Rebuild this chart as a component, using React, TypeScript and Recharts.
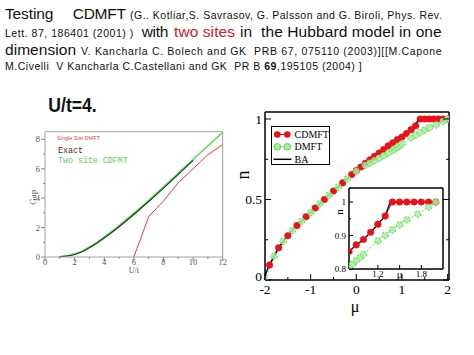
import React from 'react';
import { LineChart, Line, XAxis, YAxis, Legend, CartesianGrid } from 'recharts';

// ---------- Left chart: Gap vs U/t ----------
const exactU = [1, 1.5, 2, 2.5, 3, 3.5, 4, 4.5, 5, 6, 7, 8, 9, 10];
const exactGap = [0.02, 0.07, 0.17, 0.36, 0.63, 0.94, 1.29, 1.66, 2.06, 2.89, 3.77, 4.68, 5.62, 6.57];
const twoSiteU = [0.9, 1.5, 2, 2.5, 3, 3.5, 4, 4.5, 5, 6, 7, 8, 9, 10, 11, 12];
const twoSiteGap = [0.0, 0.08, 0.2, 0.4, 0.68, 1.0, 1.36, 1.74, 2.14, 2.98, 3.86, 4.77, 5.7, 6.64, 7.56, 8.48];
const singleSiteU = [6, 7, 8, 9, 10, 11, 12];
const singleSiteGap = [0, 2.75, 3.8, 5.05, 6.0, 6.95, 7.65];
const gapXTicks = [0, 1, 2, 3, 4, 5, 6, 7, 8, 9, 10, 11, 12];
const gapYTicks = [0, 1, 2, 3, 4, 5, 6, 7, 8];

// ---------- Right chart: n vs mu ----------
const cdmftMu = [-1.9, -1.7, -1.5, -1.3, -1.1, -0.9, -0.7, -0.5, -0.3, -0.1, 0, 0.1, 0.2, 0.3, 0.4, 0.5, 0.6, 0.7, 0.8, 0.9, 1.0, 1.1, 1.2, 1.3, 1.4, 1.5, 1.6, 1.7, 1.8, 1.9, 2.0];
const cdmftN = [0.093, 0.2, 0.275, 0.338, 0.393, 0.447, 0.5, 0.553, 0.603, 0.655, 0.68, 0.702, 0.725, 0.747, 0.768, 0.789, 0.811, 0.833, 0.852, 0.872, 0.888, 0.91, 0.934, 0.958, 1.0, 1.0, 1.0, 1.0, 1.0, 1.0, 1.0];
const dmftMu = [-2.0, -1.8, -1.6, -1.4, -1.2, -1.0, -0.8, -0.6, -0.4, -0.2, 0.0, 0.2, 0.3, 0.4, 0.5, 0.6, 0.7, 0.8, 0.85, 0.9, 0.95, 1.0, 1.2, 1.3, 1.4, 1.5, 1.6, 1.75, 1.9, 2.0];
const dmftN = [0.0, 0.148, 0.24, 0.307, 0.366, 0.42, 0.474, 0.527, 0.578, 0.628, 0.675, 0.712, 0.727, 0.742, 0.757, 0.772, 0.789, 0.806, 0.815, 0.825, 0.834, 0.844, 0.884, 0.9, 0.917, 0.932, 0.947, 0.964, 0.985, 1.0];
const baMu = [-2, -1.99, -1.97, -1.94, -1.9, -1.8, -1.7, -1.5, -1.3, -1.1, -0.9, -0.7, -0.5, -0.3, -0.1, 0.1, 0.3, 0.5, 0.7, 0.8, 0.9, 1.0, 1.1, 1.2, 1.3, 1.37, 2.0];
const baN = [0, 0.03, 0.05, 0.07, 0.093, 0.15, 0.2, 0.275, 0.338, 0.393, 0.447, 0.5, 0.553, 0.603, 0.655, 0.702, 0.747, 0.789, 0.833, 0.852, 0.872, 0.888, 0.91, 0.934, 0.958, 1.0, 1.0];
const muTicks = [-2, -1.5, -1, -0.5, 0, 0.5, 1, 1.5, 2];
const nTicks = [0, 0.25, 0.5, 0.75, 1];
const insetMuTicks = [1.2, 1.5, 1.8];
const insetNTicks = [0.8, 0.85, 0.9, 0.95, 1.0];

const rows = (xs: number[], ys: number[], kx: string, ky: string) => xs.map((x, i) => ({ [kx]: x, [ky]: ys[i] }));
const exactRows = rows(exactU, exactGap, 'u', 'g');
const twoSiteRows = rows(twoSiteU, twoSiteGap, 'u', 'g');
const singleRows = rows(singleSiteU, singleSiteGap, 'u', 'g');
const cdmftRows = rows(cdmftMu, cdmftN, 'mu', 'n');
const dmftRows = rows(dmftMu, dmftN, 'mu', 'n');
const baRows = rows(baMu, baN, 'mu', 'n');
const insetMin = 0.8;
const cdmftInset = cdmftRows.filter((r: any) => r.mu >= insetMin);
const dmftInset = dmftRows.filter((r: any) => r.mu >= insetMin);
const baInset = baRows.filter((r: any) => r.mu >= insetMin);

const serif = "'Liberation Serif', 'Times New Roman', serif";
const sans = "'Liberation Sans', Arial, sans-serif";
const mono = "'Liberation Mono', 'Courier New', monospace";

type Side = 'bottom' | 'top' | 'left' | 'right';
interface TickCfg {
  side: Side; inward: boolean; isMajor: (v: number) => boolean; majorLen: number; minorLen: number;
  stroke: string; strokeWidth: number; label?: (v: number) => string | null; labelOffset?: number;
  fontSize?: number; fontFamily?: string; fill?: string; labelFontSize?: (v: number) => number;
  labelShift?: (v: number) => number;
}
function makeTick(c: TickCfg) {
  return function Tick(props: any) {
    const { x, y, payload } = props;
    const v = Number(payload?.value);
    const len = c.isMajor(v) ? c.majorLen : c.minorLen;
    const s = c.inward ? -1 : 1;
    let x2 = x, y2 = y;
    if (c.side === 'bottom') y2 = y + s * len;
    else if (c.side === 'top') y2 = y - s * len;
    else if (c.side === 'left') x2 = x - s * len;
    else x2 = x + s * len;
    const txt = c.label ? c.label(v) : null;
    const fs = c.labelFontSize ? c.labelFontSize(v) : c.fontSize;
    const off = c.labelOffset ?? 0;
    const sh = c.labelShift ? c.labelShift(v) : 0;
    let lab: any = null;
    if (txt != null) {
      if (c.side === 'bottom') lab = <text x={x} y={y + off + sh} textAnchor="middle" dominantBaseline="central" fontSize={fs} fontFamily={c.fontFamily} fill={c.fill}>{txt}</text>;
      else if (c.side === 'left') lab = <text x={x - off} y={y + sh} textAnchor="end" dominantBaseline="central" fontSize={fs} fontFamily={c.fontFamily} fill={c.fill}>{txt}</text>;
    }
    return <g>{len > 0 && <line x1={x} y1={y} x2={x2} y2={y2} stroke={c.stroke} strokeWidth={c.strokeWidth} />}{lab}</g>;
  };
}
const isInt = (v: number) => Math.abs(v - Math.round(v)) < 1e-6;
const isEven = (v: number) => isInt(v) && Math.round(v) % 2 === 0;
const isHalf = (v: number) => Math.abs(v * 2 - Math.round(v * 2)) < 1e-6;
const isTenth = (v: number) => Math.abs(v * 10 - Math.round(v * 10)) < 1e-6;

// left chart ticks
const gapXTick = makeTick({ side: 'bottom', inward: false, isMajor: isEven, majorLen: 4, minorLen: 2, stroke: '#888', strokeWidth: 1, label: (v) => (isEven(v) ? String(v) : null), labelOffset: 4.6, fontSize: 8.5, fontFamily: serif, fill: '#555' });
const gapYTick = makeTick({ side: 'left', inward: false, isMajor: isEven, majorLen: 4, minorLen: 2, stroke: '#888', strokeWidth: 1, label: (v) => (isEven(v) ? String(v) : null), labelOffset: 5, fontSize: 8.5, fontFamily: serif, fill: '#555' });

// right chart ticks
const mainXTick = makeTick({ side: 'bottom', inward: true, isMajor: isInt, majorLen: 6, minorLen: 3, stroke: '#000', strokeWidth: 1, label: (v) => (isInt(v) ? String(v) : null), labelOffset: 9.5, fontSize: 13.5, fontFamily: serif, fill: '#000' });
const mainXTopTick = makeTick({ side: 'top', inward: true, isMajor: isInt, majorLen: 6, minorLen: 3, stroke: '#000', strokeWidth: 1 });
const mainYTick = makeTick({ side: 'left', inward: true, isMajor: isHalf, majorLen: 6, minorLen: 3, stroke: '#000', strokeWidth: 1, label: (v) => (v === 0 ? '0' : v === 0.5 ? '0.5' : v === 1 ? '1' : null), labelOffset: 3, fontSize: 13.5, fontFamily: serif, fill: '#000', labelShift: (v) => (v === 0 ? -4 : 0) });
const mainYRightTick = makeTick({ side: 'right', inward: true, isMajor: isHalf, majorLen: 6, minorLen: 3, stroke: '#000', strokeWidth: 1 });

const insetXTick = makeTick({ side: 'bottom', inward: true, isMajor: () => true, majorLen: 4, minorLen: 2, stroke: '#000', strokeWidth: 1, label: (v) => (Math.abs(v - 1.5) < 1e-6 ? 'μ' : v.toFixed(1)), labelOffset: 4.5, fontSize: 9, labelFontSize: (v) => (Math.abs(v - 1.5) < 1e-6 ? 11 : 9), fontFamily: serif, fill: '#000' });
const insetYTick = makeTick({ side: 'left', inward: true, isMajor: isTenth, majorLen: 4, minorLen: 2, stroke: '#000', strokeWidth: 1, label: (v) => (Math.abs(v - 1) < 1e-6 ? '1' : isTenth(v) ? v.toFixed(1) : null), labelOffset: 3, fontSize: 9, fontFamily: serif, fill: '#000' });

const red = '#e4141c';
const greenFill = '#a8ef9c';
const greenStroke = '#62cc58';

const LeftLegend = () => (
  <svg width={120} height={40} style={{ display: 'block', overflow: 'visible' }}>
    <text x={7} y={8.3} dominantBaseline="central" fontSize={5.5} fontFamily={sans} fill="#d8434a">Single Site DMFT</text>
    <text x={8} y={20.7} dominantBaseline="central" fontSize={8.3} fontFamily={mono} fill="#333">Exact</text>
    <text x={8} y={30} dominantBaseline="central" fontSize={8.3} fontFamily={mono} fill="#5ccc5c">Two site CDFMT</text>
  </svg>
);

const RightLegend = () => (
  <svg width={60} height={40} style={{ display: 'block', overflow: 'visible' }}>
    <rect x={0.5} y={0.5} width={58} height={38} fill="#fff" stroke="#000" strokeWidth={1} />
    <line x1={6.3} y1={8.5} x2={16.3} y2={8.5} stroke={red} strokeWidth={1} />
    <circle cx={6.3} cy={8.5} r={3.3} fill={red} />
    <circle cx={16.3} cy={8.5} r={3.3} fill={red} />
    <text x={23.5} y={8.5} dominantBaseline="central" fontSize={10} fontFamily={serif}>CDMFT</text>
    <line x1={6.3} y1={20.8} x2={16.3} y2={20.8} stroke={greenStroke} strokeWidth={1} strokeDasharray="2 2" />
    <circle cx={6.3} cy={20.8} r={3.3} fill={greenFill} stroke={greenStroke} strokeWidth={1} />
    <circle cx={16.3} cy={20.8} r={3.3} fill={greenFill} stroke={greenStroke} strokeWidth={1} />
    <text x={23.5} y={20.8} dominantBaseline="central" fontSize={10} fontFamily={serif}>DMFT</text>
    <line x1={2.5} y1={33.3} x2={20.5} y2={33.3} stroke="#000" strokeWidth={1.5} />
    <text x={23.5} y={33.3} dominantBaseline="central" fontSize={10} fontFamily={serif}>BA</text>
  </svg>
);

const Header = () => (
  <svg width={474} height={120} style={{ position: 'absolute', left: 0, top: 0 }}>
    <g fontFamily={sans} fill="#111">
      <text x={5} y={18.5} fontSize={15.5} textLength={48.3}>Testing</text>
      <text x={72.7} y={18.5} fontSize={15.5} textLength={53.3}>CDMFT</text>
      <text x={130} y={18.5} fontSize={10.5} textLength={311.7}>(G.. Kotliar,S. Savrasov, G. Palsson and G. Biroli, Phys. Rev.</text>
      <text x={5} y={36.5} fontSize={10.5} textLength={128.3}>Lett. 87, 186401 (2001) )</text>
      <text x={141.7} y={36.5} fontSize={15.5} textLength={26.6}>with</text>
      <text x={174} y={36.5} fontSize={15.5} textLength={61} fill="#c8232c">two sites</text>
      <text x={240} y={36.5} fontSize={15.5} textLength={201.7} style={{ whiteSpace: 'pre' }}>in  the Hubbard model in one</text>
      <text x={5} y={54.5} fontSize={15.5} textLength={71}>dimension</text>
      <text x={81} y={54.5} fontSize={10.5} textLength={360.7} style={{ whiteSpace: 'pre' }}>V. Kancharla C. Bolech and GK  PRB 67, 075110 (2003)][[M.Capone</text>
      <text x={5} y={70} fontSize={10.5} textLength={356.7} style={{ whiteSpace: 'pre' }}>M.Civelli  V Kancharla C.Castellani and GK  PR B <tspan fontWeight="bold">69</tspan>,195105 (2004) ]</text>
      <text x={48.3} y={111.5} fontSize={21} fontWeight="bold" textLength={48.4} lengthAdjust="spacingAndGlyphs">U/t=4.</text>
    </g>
  </svg>
);

const GapChart = () => (
  <div style={{ position: 'absolute', left: 0, top: 120 }}>
    <LineChart width={240} height={160} margin={{ top: 10.7, right: 16.3, left: 44, bottom: 22 }}>
      <XAxis type="number" dataKey="u" domain={[0, 12]} ticks={gapXTicks} interval={0} tickSize={0} tickMargin={0} height={1} axisLine={{ stroke: '#a0a0a0' }} tickLine={false} tick={gapXTick}
        label={(p: any) => <text x={p.viewBox.x + p.viewBox.width / 2} y={p.viewBox.y + 13.8} textAnchor="middle" dominantBaseline="central" fontSize={8} fontFamily={serif} fill="#555">U/t</text>} />
      <XAxis xAxisId="top" orientation="top" type="number" domain={[0, 12]} allowDataOverflow height={1} tick={false} tickLine={false} axisLine={{ stroke: '#a0a0a0' }} />
      <YAxis type="number" domain={[0, 8.52]} ticks={gapYTicks} interval={0} tickSize={0} tickMargin={0} width={1} axisLine={{ stroke: '#a0a0a0' }} tickLine={false} tick={gapYTick} allowDataOverflow
        label={(p: any) => <text x={p.viewBox.x - 11.3} y={p.viewBox.y + p.viewBox.height / 2 + 3} textAnchor="middle" dominantBaseline="central" fontSize={9} fontFamily={serif} fill="#555" transform={`rotate(-90 ${p.viewBox.x - 11.3} ${p.viewBox.y + p.viewBox.height / 2 + 3})`}>Gap</text>} />
      <YAxis yAxisId="right" orientation="right" type="number" domain={[0, 8.52]} allowDataOverflow width={1} tick={false} tickLine={false} axisLine={{ stroke: '#a0a0a0' }} />
      <Line data={singleRows} dataKey="g" type="linear" stroke="#dd3c45" strokeWidth={1} dot={false} isAnimationActive={false} />
      <Line data={twoSiteRows} dataKey="g" type="monotone" stroke="#66dd5e" strokeWidth={1.6} dot={false} isAnimationActive={false} />
      <Line data={exactRows} dataKey="g" type="monotone" stroke="#1c3a1c" strokeWidth={1.2} dot={false} isAnimationActive={false} />
      <Legend layout="vertical" align="center" verticalAlign="middle" width={120} height={40} wrapperStyle={{ left: 50, top: 10, width: 120, height: 40 }} content={() => <LeftLegend />} />
    </LineChart>
  </div>
);

const DensityChart = () => (
  <div style={{ position: 'absolute', left: 230, top: 100 }}>
    <LineChart width={244} height={255} margin={{ top: 11, right: 24, left: 34, bottom: 74 }}>
      <XAxis type="number" dataKey="mu" domain={[-2, 2.03]} ticks={muTicks} interval={0} tickSize={0} tickMargin={0} height={1} axisLine={{ stroke: '#000', strokeWidth: 1.5 }} tickLine={false} tick={mainXTick} allowDataOverflow
        label={(p: any) => <text x={p.viewBox.x + 90} y={p.viewBox.y + 26} textAnchor="middle" dominantBaseline="central" fontSize={16} fontFamily={serif}>μ</text>} />
      <XAxis xAxisId="top" orientation="top" type="number" domain={[-2, 2.03]} ticks={muTicks} interval={0} tickSize={0} tickMargin={0} height={1} allowDataOverflow axisLine={{ stroke: '#000', strokeWidth: 1.5 }} tickLine={false} tick={mainXTopTick} />
      <YAxis type="number" domain={[0, 1.0435]} ticks={nTicks} interval={0} tickSize={0} tickMargin={0} width={1} axisLine={{ stroke: '#000', strokeWidth: 1.5 }} tickLine={false} tick={mainYTick} allowDataOverflow
        label={(p: any) => <text x={p.viewBox.x - 21} y={p.viewBox.y + 63} textAnchor="middle" dominantBaseline="central" fontSize={18} fontFamily={serif} transform={`rotate(-90 ${p.viewBox.x - 21} ${p.viewBox.y + 63})`}>n</text>} />
      <YAxis yAxisId="right" orientation="right" type="number" domain={[0, 1.0435]} ticks={nTicks} interval={0} tickSize={0} tickMargin={0} width={1} allowDataOverflow axisLine={{ stroke: '#000', strokeWidth: 1.5 }} tickLine={false} tick={mainYRightTick} />
      <Line data={cdmftRows} dataKey="n" type="linear" stroke={red} strokeWidth={1} dot={{ r: 3.3, fill: red, stroke: red, strokeWidth: 0.5 }} isAnimationActive={false} />
      <Line data={dmftRows} dataKey="n" type="linear" stroke={greenStroke} strokeWidth={1} strokeDasharray="2 2" dot={{ r: 3.3, fill: greenFill, fillOpacity: 0.85, stroke: greenStroke, strokeWidth: 1 }} isAnimationActive={false} />
      <Line data={baRows} dataKey="n" type="monotone" stroke="#000" strokeWidth={1.5} dot={false} isAnimationActive={false} />
      <Legend layout="vertical" align="center" verticalAlign="middle" width={60} height={40} wrapperStyle={{ left: 41.2, top: 26.2, width: 60, height: 40 }} content={() => <RightLegend />} />
    </LineChart>
  </div>
);

const InsetChart = () => (
  <div style={{ position: 'absolute', left: 320, top: 180 }}>
    <LineChart width={130} height={105} margin={{ top: 7, right: 6, left: 28, bottom: 15 }}>
      <CartesianGrid horizontal={false} vertical={false} fill="#fff" fillOpacity={1} />
      <XAxis type="number" dataKey="mu" domain={[0.8, 2.1]} ticks={insetMuTicks} interval={0} tickSize={0} tickMargin={0} height={1} axisLine={{ stroke: '#000', strokeWidth: 1.5 }} tickLine={false} tick={insetXTick} allowDataOverflow />
      <XAxis xAxisId="top" orientation="top" type="number" domain={[0.8, 2.1]} allowDataOverflow height={1} tick={false} tickLine={false} axisLine={{ stroke: '#000', strokeWidth: 1.5 }} />
      <YAxis type="number" domain={[0.8, 1.042]} ticks={insetNTicks} interval={0} tickSize={0} tickMargin={0} width={1} axisLine={{ stroke: '#000', strokeWidth: 1.5 }} tickLine={false} tick={insetYTick} allowDataOverflow
        label={(p: any) => <text x={p.viewBox.x - 9} y={p.viewBox.y + 24} textAnchor="middle" dominantBaseline="central" fontSize={11} fontFamily={serif} transform={`rotate(-90 ${p.viewBox.x - 9} ${p.viewBox.y + 24})`}>n</text>} />
      <YAxis yAxisId="right" orientation="right" type="number" domain={[0.8, 1.042]} allowDataOverflow width={1} tick={false} tickLine={false} axisLine={{ stroke: '#000', strokeWidth: 1.5 }} />
      <Line data={cdmftInset} dataKey="n" type="linear" stroke={red} strokeWidth={1} dot={{ r: 3.3, fill: red, stroke: red, strokeWidth: 0.5 }} isAnimationActive={false} />
      <Line data={dmftInset} dataKey="n" type="linear" stroke={greenStroke} strokeWidth={1} strokeDasharray="2 2" dot={{ r: 3.3, fill: greenFill, fillOpacity: 0.85, stroke: greenStroke, strokeWidth: 1 }} isAnimationActive={false} />
      <Line data={baInset} dataKey="n" type="linear" stroke="#000" strokeWidth={1.3} dot={false} isAnimationActive={false} />
    </LineChart>
  </div>
);

export default function App() {
  return (
    <div style={{ position: 'absolute', left: 0, top: 0, width: 474, height: 355, background: '#fff', overflow: 'hidden' }}>
      <Header />
      <GapChart />
      <DensityChart />
      <InsetChart />
    </div>
  );
}
